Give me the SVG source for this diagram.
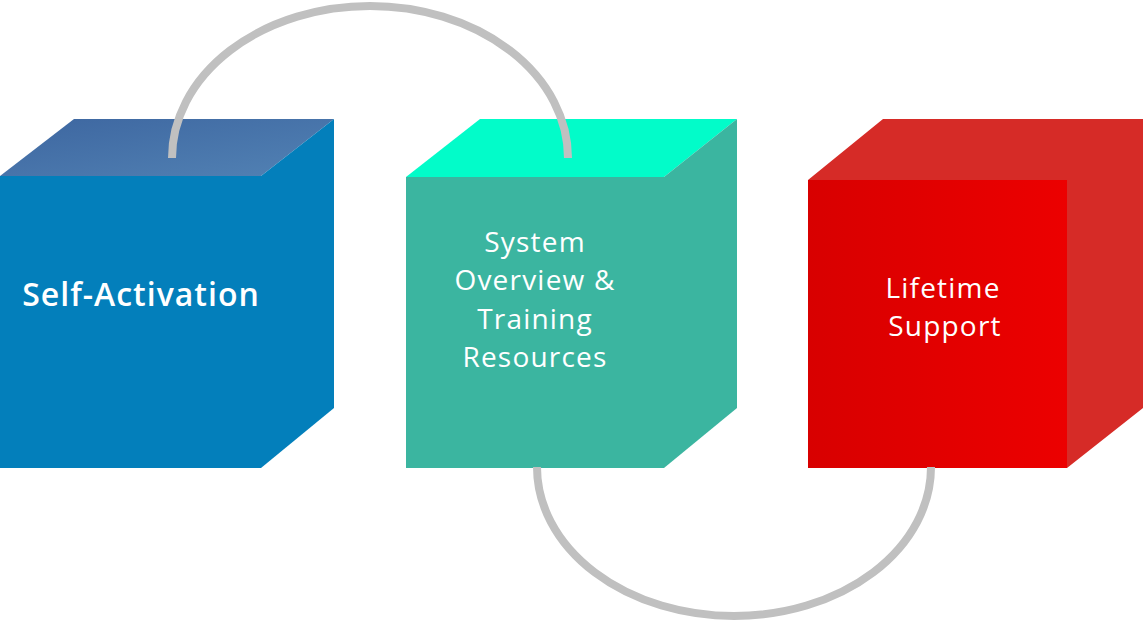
<svg xmlns="http://www.w3.org/2000/svg" width="1143" height="624" viewBox="0 0 1143 624">
<defs>
<linearGradient id="blueTop" x1="0" y1="0" x2="1" y2="1">
<stop offset="0" stop-color="#3d66a0"/>
<stop offset="1" stop-color="#5282b4"/>
</linearGradient>
<linearGradient id="redFront" x1="0" y1="0" x2="1" y2="0">
<stop offset="0" stop-color="#d80000"/>
<stop offset="1" stop-color="#ec0000"/>
</linearGradient>
</defs>
<style>
.lbl{fill:#ffffff;font-family:"Open Sans","Noto Sans","DejaVu Sans",sans-serif;font-size:28px;text-anchor:middle;letter-spacing:1.2px}
.conn{fill:none;stroke:#c0c0c0;stroke-width:8}
</style>
<g id="node-self-activation">
<polygon points="0,176 74,119 334,119 261,176" fill="url(#blueTop)"/>
<polygon points="261,176 334,119 334,408 261,468" fill="#037fbb"/>
<rect x="0" y="176" width="261" height="292" fill="#037fbb"/>
<text class="lbl" x="141" y="306" style="font-weight:600;font-size:32px;letter-spacing:1px">Self-Activation</text>
</g>
<g id="node-system-overview">
<polygon points="406,177 480,119 737,119 664,177" fill="#02fcc9"/>
<polygon points="664,177 737,119 737,408 664,468" fill="#3bb5a0"/>
<rect x="406" y="177" width="258" height="291" fill="#3bb5a0"/>
<text class="lbl" x="535" y="252">System</text>
<text class="lbl" x="535" y="290">Overview &amp;</text>
<text class="lbl" x="535" y="329">Training</text>
<text class="lbl" x="535" y="367">Resources</text>
</g>
<g id="node-lifetime-support">
<polygon points="808,180 883,119 1143,119 1143,408 1067,468 1067,180" fill="#d62b27"/>
<rect x="808" y="180" width="259" height="288" fill="url(#redFront)"/>
<text class="lbl" x="943" y="298">Lifetime</text>
<text class="lbl" x="945" y="336">Support</text>
</g>
<g id="connectors">
<path class="conn" d="M172,158 A198,152 0 0 1 568,158"/>
<path class="conn" d="M537,467 A197,149 0 0 0 931,467"/>
</g>
</svg>
